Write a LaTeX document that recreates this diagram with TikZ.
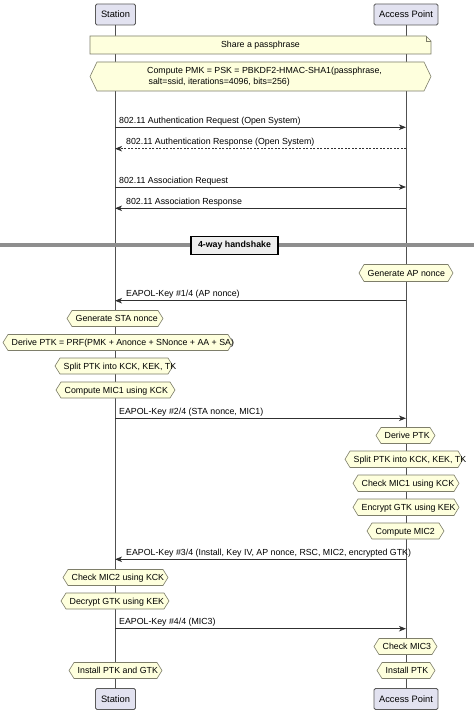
\documentclass[tikz,border=0pt]{standalone}
\usepackage{fontspec}
\setmainfont{Liberation Sans}
\usetikzlibrary{arrows.meta}
\definecolor{partfill}{HTML}{E2E2F0}
\definecolor{partdraw}{HTML}{5A5A5A}
\definecolor{notefill}{HTML}{FEFFDD}
\definecolor{notedraw}{HTML}{7E7E6A}
\definecolor{lifecol}{HTML}{505050}
\definecolor{msgcol}{HTML}{303030}
\definecolor{divcol}{HTML}{8E8E8E}
\definecolor{divfill}{HTML}{EEEEEE}
\newcommand\hexnote[6]{%
  \draw[hexshape] (#2,{(#4+#5)/2}) -- (#2+5,#4) -- (#3-5,#4) -- (#3,{(#4+#5)/2}) -- (#3-5,#5) -- (#2+5,#5) -- cycle;
  \node[hextext] (#1) at (#2+8.5,{(#4+#5)/2}) {#6};}
\newcommand\msgr[4]{% name, y, text, style
  \coordinate (#1s) at (115,#2);
  \coordinate (#1a) at (406,#2);
  \draw[msgline,#4] (#1s) -- (#1a);
  \node[msgtext] (#1t) at (119,#2-4) {#3};}
\newcommand\msgl[4]{% name, y, text, style
  \coordinate (#1s) at (115,#2);
  \coordinate (#1a) at (406,#2);
  \draw[msgline,#4] (#1a) -- (#1s);
  \node[msgtext] (#1t) at (126,#2-4) {#3};}
\begin{document}
\begin{tikzpicture}[x=1pt,y=-1pt,
  basefont/.style={font=\fontsize{8.8}{10.5}\selectfont},
  part/.style={draw=partdraw, fill=partfill, line width=0.8pt, rounded corners=1.5pt,
    minimum height=21pt, inner sep=0pt, font=\fontsize{9.3}{11}\selectfont},
  lifeline/.style={draw=lifecol, line width=0.6pt},
  hexshape/.style={draw=notedraw, fill=notefill, line width=0.6pt},
  hextext/.style={basefont, anchor=west, inner sep=0pt, text height=6.2pt, text depth=0pt},
  msgline/.style={draw=msgcol, line width=0.8pt, -{Stealth[length=7pt,width=5.5pt,inset=2pt]}},
  msgtext/.style={basefont, anchor=base west, inner sep=0pt},
  dashedmsg/.style={dash pattern=on 2pt off 1.5pt},
  plainmsg/.style={}]
\useasboundingbox (0,0) rectangle (474,714);
\fill[white] (0,0) rectangle (474,714);

% participants
\node[part, minimum width=40pt] (st) at (115.5,14.5) {Station};
\node[part, minimum width=64pt] (apt) at (406,14.5) {Access Point};
\node[part, minimum width=40pt] (sb) at (115.5,699) {Station};
\node[part, minimum width=64pt] (apb) at (406,699) {Access Point};
\draw[lifeline] (st.south) -- (sb.north);
\draw[lifeline] (apt.south) -- (apb.north);

% note
\draw[hexshape] (90,36) -- (426,36) -- (431,41) -- (431,54) -- (90,54) -- cycle;
\draw[hexshape, fill=none] (426,36) -- (426,41) -- (431,41);
\node[basefont, inner sep=0pt] (share) at (260.5,45) {Share a passphrase};

% tall hexagon
\draw[hexshape] (90,76.5) -- (97,62) -- (424,62) -- (431,76.5) -- (424,91) -- (97,91) -- cycle;
\node[basefont, anchor=west, align=left, inner sep=0pt] (pmk) at (147,76.5)
  {Compute PMK = PSK = PBKDF2-HMAC-SHA1(passphrase,\\[0.5pt]\hspace{1.5pt}salt=ssid, iterations=4096, bits=256)};

% messages
\msgr{m1}{127.3}{802.11 Authentication Request (Open System)}{plainmsg}
\msgl{m2}{148.7}{802.11 Authentication Response (Open System)}{dashedmsg}
\msgr{m3}{187}{802.11 Association Request}{plainmsg}
\msgl{m4}{208.3}{802.11 Association Response}{plainmsg}

% divider
\coordinate (dl) at (0,245);
\coordinate (dr) at (474,245);
\draw[divcol, line width=3.4pt] (dl) -- (dr);
\node[draw=black, fill=divfill, line width=1.1pt, minimum width=87pt, minimum height=18pt,
  inner sep=0pt, font=\fontsize{8.8}{10.5}\selectfont\bfseries] (div) at (234.5,245.7) {4-way handshake};

\hexnote{h1}{359}{453}{264.5}{281.5}{Generate AP nonce}
\msgl{m5}{300.7}{EAPOL-Key \#1/4 (AP nonce)}{plainmsg}
\hexnote{h2}{67}{163}{310.5}{326.5}{Generate STA nonce}
\hexnote{h3}{3}{233}{334.5}{350.5}{Derive PTK = PRF(PMK + Anonce + SNonce + AA + SA)}
\hexnote{h4}{55}{173}{358}{374}{Split PTK into KCK, KEK, TK}
\hexnote{h5}{56}{175}{382}{398}{Compute MIC1 using KCK}
\msgr{m6}{418.3}{EAPOL-Key \#2/4 (STA nonce, MIC1)}{plainmsg}
\hexnote{h6}{376}{435}{427.5}{443.5}{Derive PTK}
\hexnote{h7}{345}{463}{451}{467.5}{Split PTK into KCK, KEK, TK}
\hexnote{h8}{353}{459}{475}{491.5}{Check MIC1 using KCK}
\hexnote{h9}{353}{459}{499}{515.5}{Encrypt GTK using KEK}
\hexnote{h10}{367}{444}{523}{539}{Compute MIC2}
\msgl{m7}{559.3}{EAPOL-Key \#3/4 (Install, Key IV, AP nonce, RSC, MIC2, encrypted GTK)}{plainmsg}
\hexnote{h11}{63}{168}{569.5}{585.5}{Check MIC2 using KCK}
\hexnote{h12}{61}{169}{593}{609}{Decrypt GTK using KEK}
\msgr{m8}{628.7}{EAPOL-Key \#4/4 (MIC3)}{plainmsg}
\hexnote{h13}{374}{437}{638.5}{654.5}{Check MIC3}
\hexnote{h14}{69}{162}{662.5}{678.5}{Install PTK and GTK}
\hexnote{h15}{377}{435}{662.5}{678.5}{Install PTK}
\end{tikzpicture}
\end{document}
